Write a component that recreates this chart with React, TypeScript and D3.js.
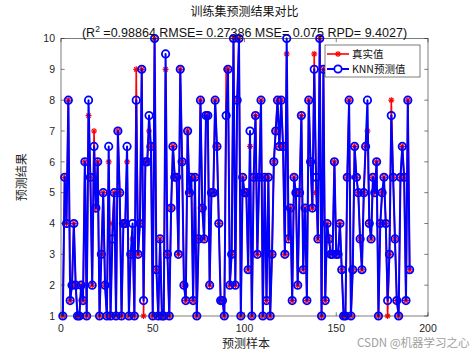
import React from 'react';
import * as d3 from 'd3';

const trueValues: number[] = [
  1, 5.5, 4, 8, 1.5, 2, 4, 2, 1, 1,
  2, 1.5, 6, 1, 7.5, 5.5, 2, 7, 4.5, 6,
  1, 3, 5, 2, 1, 6, 1, 4, 5, 1,
  7, 5, 1, 4, 4, 6, 1, 3, 3.5, 1,
  9, 3, 4, 9, 1, 6, 6, 7, 6.5, 1,
  10, 2.5, 1, 3.5, 1, 1, 9, 3, 1, 4.5,
  6.5, 5.5, 5.5, 3, 9, 6, 2, 1.5, 7, 5,
  5.5, 1.5, 5.5, 1, 3.5, 8, 4.5, 3.5, 7.5, 7.5,
  2, 5, 5, 8, 6.5, 4, 1.5, 1.5, 1, 9,
  9, 2, 3, 10, 2, 8, 10, 1, 5.5, 5,
  5, 2.5, 6.5, 1, 5.5, 7.5, 3, 5.5, 8, 1,
  5.5, 1.5, 5.5, 1, 3, 6, 7, 8, 6.5, 8,
  6.5, 3, 9.5, 3.5, 4.5, 1.5, 5.5, 5, 2, 5,
  7.5, 2.5, 4.5, 1.5, 8, 6, 4.5, 9.5, 5, 3.5,
  10, 1, 9, 1.5, 4, 3.5, 3, 3, 6, 3,
  3, 4, 2.5, 1, 1, 5.5, 8, 1, 2.5, 6.5,
  5.5, 5, 3.5, 2.5, 5, 6.5, 7, 4, 3.5, 5.5,
  5, 6, 1, 4, 5, 5.5, 4, 1, 3, 8,
  5.5, 3.5, 1.5, 1, 5.5, 6.5, 5.5, 1.5, 8, 2.5,
];

const predValues: number[] = [
  1, 5.5, 4, 8, 1.5, 2, 4, 2, 1, 1,
  2, 1.5, 6, 1, 8, 5.5, 2, 6.5, 4.5, 6,
  1, 3, 5, 2, 1, 6.5, 1, 3.5, 5, 1,
  7, 5, 1, 4, 4, 6.5, 1, 3, 4, 1,
  8, 3, 4, 9, 1.5, 6, 6, 7.5, 6.5, 1,
  10, 2.5, 1, 3.5, 1, 1, 9.5, 3, 1, 4.5,
  6.5, 5.5, 5.5, 3, 9, 6, 2, 1.5, 7, 5,
  5.5, 1.5, 5.5, 1, 3.5, 8, 4.5, 3.5, 7.5, 7.5,
  2, 5, 5, 8, 6.5, 4, 1.5, 1.5, 1, 7.5,
  9, 2, 3, 10, 2, 8, 10, 1, 5.5, 5,
  5, 2.5, 7, 1, 5.5, 7.5, 3, 5.5, 8, 1,
  5.5, 1.5, 5.5, 1, 3, 6, 7, 8, 6.5, 8,
  6.5, 3, 10, 3.5, 4.5, 1.5, 5.5, 5, 2, 5,
  7.5, 2.5, 4.5, 1.5, 8, 6, 4.5, 9, 5.5, 3.5,
  10, 1, 9, 1.5, 4, 3.5, 3, 3, 6, 3,
  3, 4, 2.5, 1, 1, 5.5, 8, 1, 2.5, 6.5,
  5.5, 5, 3.5, 2.5, 5, 6.5, 8, 4, 3.5, 5.5,
  5, 6, 1, 4, 5, 5.5, 4, 1.5, 3, 7.5,
  5.5, 3.5, 1.5, 1, 5.5, 6.5, 5.5, 1.5, 8, 2.5,
];

const xTicks = [0, 50, 100, 150, 200];
const yTicks = [1, 2, 3, 4, 5, 6, 7, 8, 9, 10];
const titleText = '训练集预测结果对比';
const subtitleParts = ['(R', '2', ' =0.98864 RMSE= 0.27386 MSE= 0.075 RPD= 9.4027)'];
const xLabel = '预测样本';
const yLabel = '预测结果';
const legendLabels = ['真实值', 'KNN预测值'];
const watermark = 'CSDN @机器学习之心';

const W = 474;
const H = 355;
const AX = '#262626';
const CJK = '"Noto Sans CJK SC", "Noto Sans", sans-serif';
const LAT = '"Liberation Sans", Arial, sans-serif';

function Star({ cx, cy, r = 3, color = '#ff0000' }: { cx: number; cy: number; r?: number; color?: string }) {
  const d = r * 0.707;
  return (
    <g stroke={color} strokeWidth={1.2}>
      <line x1={cx - r} y1={cy} x2={cx + r} y2={cy} />
      <line x1={cx} y1={cy - r} x2={cx} y2={cy + r} />
      <line x1={cx - d} y1={cy - d} x2={cx + d} y2={cy + d} />
      <line x1={cx - d} y1={cy + d} x2={cx + d} y2={cy - d} />
    </g>
  );
}

export default function App() {
  const x = d3.scaleLinear().domain([0, 200]).range([61, 428]);
  const y = d3.scaleLinear().domain([1, 10]).range([316, 38.5]);
  const [x0, x1] = x.range();
  const [y0, y1] = y.range();

  const line = d3
    .line<number>()
    .x((_, i) => x(i + 1))
    .y((d) => y(d));

  const tickLen = 3.7;
  const legX = 325;
  const legY = 45;
  const legW = 95;
  const legH = 32;

  return (
    <svg
      width={W}
      height={H}
      viewBox={`0 0 ${W} ${H}`}
      style={{ position: 'absolute', left: 0, top: 0, background: '#fff' }}
    >
      <rect x={0} y={0} width={W} height={H} fill="#fff" />
      <rect x={x0} y={y1} width={x1 - x0} height={y0 - y1} fill="#fff" />

      {/* series */}
      <path d={line(trueValues) || ''} fill="none" stroke="#ff0000" strokeWidth={1.6} />
      {trueValues.map((v, i) => (
        <Star key={`s${i}`} cx={x(i + 1)} cy={y(v)} r={3} />
      ))}
      <path d={line(predValues) || ''} fill="none" stroke="#0000ff" strokeWidth={2} strokeLinejoin="round" />
      {predValues.map((v, i) => (
        <circle key={`c${i}`} cx={x(i + 1)} cy={y(v)} r={3.7} fill="none" stroke="#0000ff" strokeWidth={1.8} />
      ))}

      {/* axes box */}
      <rect x={x0} y={y1} width={x1 - x0} height={y0 - y1} fill="none" stroke={AX} strokeWidth={0.6} />
      {xTicks.map((t) => (
        <g key={`xt${t}`}>
          <line x1={x(t)} x2={x(t)} y1={y0} y2={y0 - tickLen} stroke={AX} strokeWidth={0.6} />
          <line x1={x(t)} x2={x(t)} y1={y1} y2={y1 + tickLen} stroke={AX} strokeWidth={0.6} />
          <text x={x(t)} y={332} textAnchor="middle" fontFamily={LAT} fontSize={10.5} fill={AX}>
            {t}
          </text>
        </g>
      ))}
      {yTicks.map((t) => (
        <g key={`yt${t}`}>
          <line x1={x0} x2={x0 + tickLen} y1={y(t)} y2={y(t)} stroke={AX} strokeWidth={0.6} />
          <line x1={x1} x2={x1 - tickLen} y1={y(t)} y2={y(t)} stroke={AX} strokeWidth={0.6} />
          <text x={55} y={y(t) + 3.7} textAnchor="end" fontFamily={LAT} fontSize={10.5} fill={AX}>
            {t}
          </text>
        </g>
      ))}

      {/* titles */}
      <text x={244.5} y={16} textAnchor="middle" fontFamily={CJK} fontSize={12} fill="#111">
        {titleText}
      </text>
      <text x={244.5} y={36.5} textAnchor="middle" fontFamily={LAT} fontSize={12.5} fill="#111">
        {subtitleParts[0]}
        <tspan fontSize={8.5} dy={-5}>{subtitleParts[1]}</tspan>
        <tspan dy={5}>{subtitleParts[2]}</tspan>
      </text>
      <text x={246} y={348} textAnchor="middle" fontFamily={CJK} fontSize={12} fill="#262626">
        {xLabel}
      </text>
      <text
        transform={`translate(26,${(y0 + y1) / 2}) rotate(-90)`}
        textAnchor="middle"
        fontFamily={CJK}
        fontSize={12}
        fill="#262626"
      >
        {yLabel}
      </text>

      {/* legend */}
      <rect x={legX} y={legY} width={legW} height={legH} fill="#fff" stroke={AX} strokeWidth={0.6} />
      <line x1={legX + 2} x2={legX + 24} y1={legY + 9} y2={legY + 9} stroke="#ff0000" strokeWidth={1.6} />
      <Star cx={legX + 13} cy={legY + 9} r={3} />
      <text x={legX + 27} y={legY + 12.5} fontFamily={CJK} fontSize={10.5} fill="#111">
        {legendLabels[0]}
      </text>
      <line x1={legX + 2} x2={legX + 24} y1={legY + 24} y2={legY + 24} stroke="#0000ff" strokeWidth={2} />
      <circle cx={legX + 13} cy={legY + 24} r={3.7} fill="#fff" stroke="#0000ff" strokeWidth={1.8} />
      <text x={legX + 27} y={legY + 27.5} fontFamily={CJK} fontSize={10.5} fill="#111">
        {legendLabels[1]}
      </text>

      {/* watermark */}
      <text x={357} y={347} fontFamily={CJK} fontSize={11.5} fill="#a0a0a0">
        {watermark}
      </text>
    </svg>
  );
}
